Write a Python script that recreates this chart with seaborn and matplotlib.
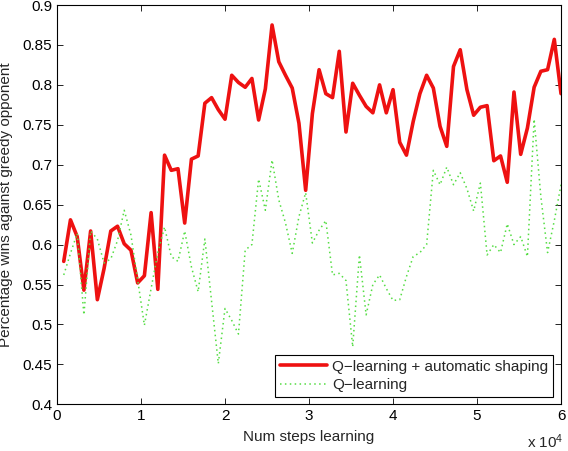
import numpy as np
import pandas as pd
import matplotlib
matplotlib.use('Agg')
import matplotlib.pyplot as plt
import seaborn as sns
from matplotlib.ticker import FuncFormatter, MultipleLocator

# --- Data ---
# one evaluation every 800 learning steps
steps = [800 * i for i in range(1, 76)]

shaping_wins = [
    0.579, 0.631, 0.610, 0.543, 0.617, 0.531, 0.570, 0.617, 0.623, 0.601,
    0.593, 0.552, 0.561, 0.640, 0.544, 0.712, 0.693, 0.695, 0.627, 0.707,
    0.711, 0.777, 0.784, 0.769, 0.757, 0.812, 0.803, 0.797, 0.808, 0.756,
    0.795, 0.875, 0.829, 0.812, 0.796, 0.752, 0.668, 0.764, 0.819, 0.789,
    0.784, 0.842, 0.741, 0.802, 0.787, 0.773, 0.765, 0.800, 0.765, 0.794,
    0.728, 0.712, 0.754, 0.789, 0.812, 0.796, 0.748, 0.723, 0.823, 0.844,
    0.794, 0.762, 0.772, 0.774, 0.705, 0.711, 0.678, 0.791, 0.713, 0.746,
    0.797, 0.817, 0.819, 0.857, 0.789,
]

plain_wins = [
    0.562, 0.589, 0.614, 0.512, 0.617, 0.607, 0.577, 0.582, 0.605, 0.643,
    0.612, 0.556, 0.499, 0.545, 0.590, 0.622, 0.585, 0.579, 0.617, 0.572,
    0.541, 0.607, 0.529, 0.451, 0.520, 0.505, 0.488, 0.593, 0.600, 0.682,
    0.643, 0.706, 0.656, 0.627, 0.589, 0.635, 0.665, 0.602, 0.618, 0.630,
    0.562, 0.564, 0.555, 0.472, 0.587, 0.512, 0.550, 0.562, 0.545, 0.530,
    0.531, 0.560, 0.585, 0.590, 0.600, 0.693, 0.675, 0.697, 0.675, 0.690,
    0.670, 0.642, 0.677, 0.587, 0.600, 0.590, 0.626, 0.600, 0.610, 0.585,
    0.757, 0.660, 0.590, 0.630, 0.675,
]

x_ticks = [0, 10000, 20000, 30000, 40000, 50000, 60000]

# --- Style: plain MATLAB-like look ---
sns.set_style('ticks')
plt.rcParams['font.family'] = ['Liberation Sans', 'DejaVu Sans']
plt.rcParams['mathtext.default'] = 'regular'
plt.rcParams['xtick.direction'] = 'in'
plt.rcParams['ytick.direction'] = 'in'
plt.rcParams['xtick.top'] = True
plt.rcParams['ytick.right'] = True

fs = 11

fig = plt.figure(figsize=(5.68, 4.51), dpi=100)
ax = fig.add_axes([0.1004, 0.1035, 0.8873, 0.8854])

df = pd.DataFrame({'steps': steps, 'shaping': shaping_wins, 'plain': plain_wins})

sns.lineplot(data=df, x='steps', y='shaping', ax=ax, color='#ee1111',
             linewidth=2.6, label='Q\u2212learning + automatic shaping')
sns.lineplot(data=df, x='steps', y='plain', ax=ax, color='#55dd44',
             linewidth=1.1, linestyle=(0, (1, 2.2)), label='Q\u2212learning')

ax.set_xlim(0, 60000)
ax.set_ylim(0.4, 0.9)
ax.set_xticks(x_ticks)
ax.xaxis.set_major_formatter(FuncFormatter(lambda v, pos: f'{v / 1e4:g}'))
ax.yaxis.set_major_locator(MultipleLocator(0.05))
ax.yaxis.set_major_formatter(FuncFormatter(lambda v, pos: f'{v:g}'))
ax.tick_params(labelsize=fs, length=4, width=0.6, colors='black')
for spine in ax.spines.values():
    spine.set_linewidth(0.8)
    spine.set_color('black')

ax.set_xlabel('Num steps learning', fontsize=fs, labelpad=5)
ax.set_ylabel('Percentage wins against greedy opponent', fontsize=fs)
ax.yaxis.set_label_coords(-0.087, 0.5)
ax.text(1.004, -0.109, 'x 10$^{4}$', transform=ax.transAxes, ha='right',
        va='baseline', fontsize=fs)

leg = ax.legend(loc='lower right', bbox_to_anchor=(0.9835, 0.019), borderaxespad=0,
                fancybox=False, edgecolor='black', framealpha=1, fontsize=fs,
                handlelength=3.05, handletextpad=0.35, borderpad=0.3,
                labelspacing=0.3)
leg.get_frame().set_linewidth(0.8)

fig.savefig('out.png', dpi=100)
